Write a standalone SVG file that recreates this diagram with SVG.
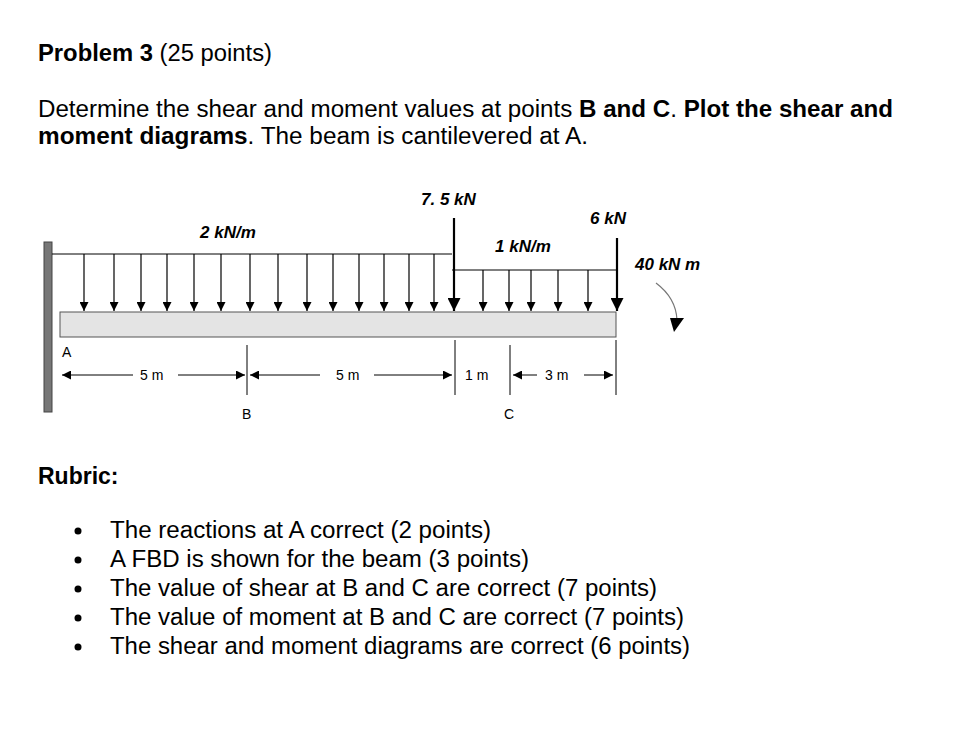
<svg xmlns="http://www.w3.org/2000/svg" width="972" height="730" viewBox="0 0 972 730">
<style>
.t{font-family:"Liberation Sans",Arial,sans-serif;fill:#000}
.h{font-size:23px}
.lb{font-size:17px;font-weight:bold;font-style:italic}
.d{font-size:14px}
.ln{stroke:#000;stroke-width:1;fill:none}
.ld{stroke:#000;stroke-width:1.2}
</style>
<defs>
<marker id="ah" viewBox="0 0 10 10" refX="10" refY="5" markerWidth="12" markerHeight="9" orient="auto" markerUnits="userSpaceOnUse"><path d="M0,0L10,5L0,10z"/></marker>
<marker id="ab" viewBox="0 0 10 10" refX="10" refY="5" markerWidth="16" markerHeight="13" orient="auto" markerUnits="userSpaceOnUse"><path d="M0,0L10,5L0,10z"/></marker>
<marker id="dm" viewBox="0 0 10 10" refX="10" refY="5" markerWidth="16" markerHeight="9" orient="auto" markerUnits="userSpaceOnUse"><path d="M0,0L10,5L0,10z"/></marker>
</defs>
<rect width="972" height="730" fill="#fff"/>
<text class="t h" x="38" y="61" textLength="234" lengthAdjust="spacingAndGlyphs"><tspan font-weight="bold">Problem 3</tspan> (25 points)</text>
<text class="t h" x="38" y="117" textLength="855" lengthAdjust="spacingAndGlyphs">Determine the shear and moment values at points <tspan font-weight="bold">B and C</tspan>.  <tspan font-weight="bold">Plot the shear and</tspan></text>
<text class="t h" x="38" y="144" textLength="550" lengthAdjust="spacingAndGlyphs"><tspan font-weight="bold">moment diagrams</tspan>.  The beam is cantilevered at A.</text>

<g id="wall"><rect x="44" y="242" width="8" height="170" fill="#777" stroke="#444"/></g>
<g id="beam"><rect x="60" y="312" width="556" height="25" fill="#e4e4e4" stroke="#555"/></g>
<g id="loads">
<path class="ln" d="M52,254H452M452,270H616"/>
<g class="ld" marker-end="url(#ah)">
<line x1="84" y1="254" x2="84" y2="311"/><line x1="114" y1="254" x2="114" y2="311"/><line x1="141" y1="254" x2="141" y2="311"/><line x1="167" y1="254" x2="167" y2="311"/><line x1="194" y1="254" x2="194" y2="311"/><line x1="221" y1="254" x2="221" y2="311"/><line x1="250" y1="254" x2="250" y2="311"/><line x1="278" y1="254" x2="278" y2="311"/><line x1="307" y1="254" x2="307" y2="311"/><line x1="333" y1="254" x2="333" y2="311"/><line x1="359" y1="254" x2="359" y2="311"/><line x1="384" y1="254" x2="384" y2="311"/><line x1="409" y1="254" x2="409" y2="311"/><line x1="434" y1="254" x2="434" y2="311"/>
<line x1="483" y1="270" x2="483" y2="311"/><line x1="509" y1="270" x2="509" y2="311"/><line x1="531" y1="270" x2="531" y2="311"/><line x1="558" y1="270" x2="558" y2="311"/><line x1="588" y1="270" x2="588" y2="311"/>
</g>
<line x1="454" y1="218" x2="454" y2="311" stroke="#000" stroke-width="2.2" marker-end="url(#ab)"/>
<line x1="617" y1="238" x2="617" y2="311" stroke="#000" stroke-width="2.2" marker-end="url(#ab)"/>
<path d="M656,283Q676,298 677,320" stroke="#777" stroke-width="1.2" fill="none"/>
<path d="M670,318L684,318L674,332z"/>
<text class="t lb" x="200" y="238">2 kN/m</text>
<text class="t lb" x="421" y="205">7. 5 kN</text>
<text class="t lb" x="590" y="224">6 kN</text>
<text class="t lb" x="495" y="252">1 kN/m</text>
<text class="t lb" x="635" y="270">40 kN m</text>
</g>
<g id="dims">
<path class="ln" d="M247,345V395M455,340V395M510,345V395M616,340V395"/>
<line class="ln" x1="133" y1="375" x2="62" y2="375" marker-end="url(#dm)"/>
<line class="ln" x1="178" y1="375" x2="245" y2="375" marker-end="url(#dm)"/>
<line class="ln" x1="320" y1="375" x2="250" y2="375" marker-end="url(#dm)"/>
<line class="ln" x1="374" y1="375" x2="452" y2="375" marker-end="url(#dm)"/>
<line class="ln" x1="537" y1="375" x2="513" y2="375" marker-end="url(#dm)"/>
<line class="ln" x1="584" y1="375" x2="613" y2="375" marker-end="url(#dm)"/>
<text class="t d" x="62" y="357">A</text>
<text class="t d" x="140" y="380">5 m</text>
<text class="t d" x="336" y="380">5 m</text>
<text class="t d" x="465" y="380">1 m</text>
<text class="t d" x="545" y="380">3 m</text>
<text class="t d" x="242" y="419">B</text>
<text class="t d" x="504" y="419">C</text>
</g>
<text class="t h" x="38" y="484" font-weight="bold">Rubric:</text>
<g class="t h">
<circle cx="78" cy="531" r="3.5"/><text x="110" y="538" textLength="381" lengthAdjust="spacingAndGlyphs">The reactions at A correct (2 points)</text>
<circle cx="78" cy="560" r="3.5"/><text x="110" y="567" textLength="419" lengthAdjust="spacingAndGlyphs">A FBD is shown for the beam (3 points)</text>
<circle cx="78" cy="589" r="3.5"/><text x="110" y="596" textLength="547" lengthAdjust="spacingAndGlyphs">The value of shear at B and C are correct (7 points)</text>
<circle cx="78" cy="618" r="3.5"/><text x="110" y="625" textLength="574" lengthAdjust="spacingAndGlyphs">The value of moment at B and C are correct (7 points)</text>
<circle cx="78" cy="647" r="3.5"/><text x="110" y="654" textLength="580" lengthAdjust="spacingAndGlyphs">The shear and moment diagrams are correct (6 points)</text>
</g>
</svg>
